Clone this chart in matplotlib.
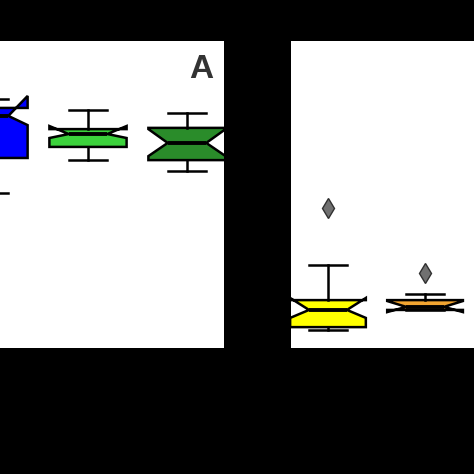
import matplotlib
matplotlib.use("Agg")
import matplotlib.pyplot as plt

# panel A (left): three notched boxes, first one mostly cut off by the crop
left_names = ["blue", "light green", "dark green"]
left_colors = ["#0000FF", "#3CD23C", "#2A8C2A"]
left_q1 = [61.9, 65.5, 61.2]
left_med = [75.6, 69.7, 66.8]
left_q3 = [78.2, 71.3, 71.7]
left_whislo = [50.5, 61.2, 57.7]
left_whishi = [81.1, 77.5, 76.5]
left_cilo = [72.6, 68.4, 62.5]
left_cihi = [82.1, 72.3, 71.3]
left_fliers = [[], [], []]

# right panel: two notched boxes with one outlier each
right_names = ["yellow", "orange"]
right_colors = ["#FFFF00", "#F2A531"]
right_q1 = [6.8, 12.4]
right_med = [12.4, 13.4]
right_q3 = [15.6, 15.6]
right_whislo = [5.9, 12.4]
right_whishi = [27.0, 17.6]
right_cilo = [9.8, 11.7]
right_cihi = [16.3, 15.3]
right_fliers = [[45.6], [24.4]]


def make_stats(names, q1, med, q3, lo, hi, cilo, cihi, fliers):
    return [dict(label=n, q1=a, med=b, q3=c, whislo=d, whishi=e,
                 cilo=f, cihi=g, fliers=h)
            for n, a, b, c, d, e, f, g, h in zip(names, q1, med, q3, lo, hi,
                                                cilo, cihi, fliers)]


def draw(ax, stats, colors):
    pos = list(range(1, len(stats) + 1))
    bp = ax.bxp(stats, positions=pos, widths=0.78, shownotches=True,
                patch_artist=True, showfliers=True,
                boxprops=dict(edgecolor="black", linewidth=1.8),
                whiskerprops=dict(color="black", linewidth=1.8),
                capprops=dict(color="black", linewidth=1.8),
                medianprops=dict(color="black", linewidth=2.8),
                flierprops=dict(marker="d", markersize=10,
                                markerfacecolor="#707070",
                                markeredgecolor="#303030"))
    for patch, c in zip(bp["boxes"], colors):
        patch.set_facecolor(c)
    ax.set_ylim(0, 100)
    ax.set_xticks([])
    ax.set_yticks([])
    for s in ax.spines.values():
        s.set_visible(False)
    ax.set_facecolor("white")


fig = plt.figure(figsize=(4.74, 4.74), dpi=100, facecolor="black")

ax1 = fig.add_axes([-48 / 474, 126 / 474, 272 / 474, 307 / 474])
draw(ax1, make_stats(left_names, left_q1, left_med, left_q3, left_whislo,
                     left_whishi, left_cilo, left_cihi, left_fliers),
     left_colors)
ax1.set_xlim(0.626, 3.374)
ax1.text(0.915, 0.879, "A", transform=ax1.transAxes, ha="center",
         va="baseline", fontsize=24, fontweight="bold",
         family="Liberation Sans", color="#333333")

ax2 = fig.add_axes([291 / 474, 126 / 474, 268 / 474, 307 / 474])
draw(ax2, make_stats(right_names, right_q1, right_med, right_q3,
                     right_whislo, right_whishi, right_cilo, right_cihi,
                     right_fliers),
     right_colors)
ax2.set_xlim(0.619, 3.38)

fig.savefig("out.png", dpi=100, facecolor="black")
